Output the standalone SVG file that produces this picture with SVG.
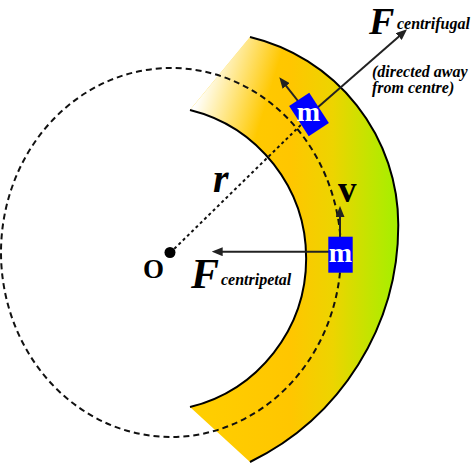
<svg xmlns="http://www.w3.org/2000/svg" width="474" height="465" viewBox="0 0 474 465">
  <style>
    .edge { fill: none; stroke: #000; stroke-width: 2; }
    .orbit { fill: none; stroke: #111; stroke-width: 2; stroke-dasharray: 6 4; }
    .radius { fill: none; stroke: #111; stroke-width: 2; stroke-dasharray: 3 3; }
    .arrow { fill: none; stroke: #222; stroke-width: 2; marker-end: url(#ah); }
    .mass { fill: #0000ff; }
    .mlabel { font-family: "Liberation Serif", "Times New Roman", serif; font-weight: bold; font-size: 28px; fill: #fff; text-anchor: middle; }
    .bi { font-family: "Liberation Serif", "Times New Roman", serif; font-weight: bold; font-style: italic; fill: #000; }
    .b { font-family: "Liberation Serif", "Times New Roman", serif; font-weight: bold; fill: #000; }
  </style>
  <defs>
    <marker id="ah" viewBox="0 0 11 9" refX="1" refY="4.5" markerWidth="11" markerHeight="9" markerUnits="userSpaceOnUse" orient="auto">
      <path d="M0,0 L11,4.5 L0,9 Z" fill="#222"/>
    </marker>
    <linearGradient id="gBase" gradientUnits="userSpaceOnUse" x1="190" y1="0" x2="400" y2="0">
      <stop offset="0" stop-color="#FFCF00"/>
      <stop offset="0.48" stop-color="#FFC600"/>
      <stop offset="0.68" stop-color="#EDD400"/>
      <stop offset="0.85" stop-color="#C4E400"/>
      <stop offset="1" stop-color="#A2F000"/>
    </linearGradient>
    <linearGradient id="gFade" gradientUnits="userSpaceOnUse" x1="200" y1="88" x2="265" y2="108">
      <stop offset="0" stop-color="#fff" stop-opacity="1"/>
      <stop offset="1" stop-color="#fff" stop-opacity="0"/>
    </linearGradient>
    <path id="bandShape" d="M250,37 A193.3,193.3 0 0 1 398.3,225 A263.5,263.5 0 0 1 250,462 L190,407 A153,153 0 0 0 190,110 Z"/>
  </defs>

  <g id="band">
    <use href="#bandShape" fill="url(#gBase)"/>
    <use href="#bandShape" fill="url(#gFade)"/>
    <path class="edge" d="M250,37 A193.3,193.3 0 0 1 398.3,225 A263.5,263.5 0 0 1 250,462"/>
    <path class="edge" d="M190,110 A153,153 0 0 1 190,407"/>
  </g>

  <g id="orbit">
    <ellipse class="orbit" cx="171" cy="252.5" rx="170" ry="184.5"/>
  </g>

  <g id="connectors">
    <line class="radius" x1="170" y1="253" x2="309" y2="117"/>
    <line class="arrow" x1="309" y1="115" x2="399.5" y2="35.9"/>
    <line class="arrow" x1="309" y1="115" x2="285.5" y2="85.2"/>
    <line class="arrow" x1="340" y1="255" x2="340" y2="216"/>
    <line class="arrow" x1="340" y1="251.7" x2="221.7" y2="251.7"/>
  </g>

  <g id="centre">
    <circle cx="170" cy="252.5" r="5.5" fill="#000"/>
    <text class="b" x="143" y="278" font-size="27">O</text>
  </g>

  <g id="mass-top">
    <rect class="mass" x="-12" y="-18" width="24" height="36" transform="translate(309,114.5) rotate(-33)"/>
    <text class="mlabel" x="308.5" y="121">m</text>
  </g>

  <g id="mass-bottom">
    <rect class="mass" x="328.3" y="236.7" width="24.4" height="36"/>
    <text class="mlabel" x="340.5" y="262">m</text>
  </g>

  <g id="labels">
    <text class="bi" x="369" y="34" font-size="38">F</text>
    <text class="bi" x="397" y="29" font-size="16">centrifugal</text>
    <text class="bi" x="372" y="77" font-size="16">(directed away</text>
    <text class="bi" x="372" y="93" font-size="16">from centre)</text>
    <text class="bi" x="213" y="192" font-size="40">r</text>
    <text class="b" x="338" y="202" font-size="37">v</text>
    <text class="bi" x="191" y="288" font-size="42">F</text>
    <text class="bi" x="221" y="285" font-size="16">centripetal</text>
  </g>
</svg>
